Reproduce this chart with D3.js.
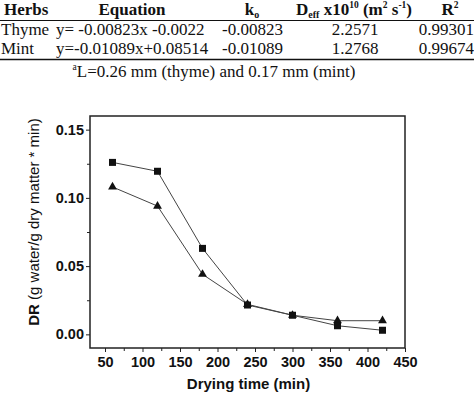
<!DOCTYPE html>
<html>
<head>
<meta charset="utf-8">
<script src="https://cdn.jsdelivr.net/npm/d3@7"></script>
<style>
  body { margin: 0; background: #fff; }
  svg { display: block; }
  .tbl { font-family: "Liberation Serif", "Times New Roman", serif; font-size: 17px; fill: #111; }
  .ax text { font-family: "Liberation Sans", Arial, sans-serif; font-size: 14.5px; font-weight: bold; fill: #111; }
</style>
</head>
<body>
<svg id="chart" width="474" height="397"></svg>
<script>
// table data
const herbs = ['Thyme', 'Mint'];
const equations = ['y= -0.00823x -0.0022', 'y=-0.01089x+0.08514'];
const k0 = ['-0.00823', '-0.01089'];
const deff = ['2.2571', '1.2768'];
const r2 = ['0.99301', '0.99674'];

// drying curve data
const times = [60, 120, 180, 240, 300, 360, 420];
const thymeDR = [0.126, 0.1195, 0.063, 0.0215, 0.014, 0.0063, 0.003];
const mintDR = [0.108, 0.094, 0.044, 0.022, 0.014, 0.010, 0.010];
const xTicks = [50, 100, 150, 200, 250, 300, 350, 400, 450];
const yTicks = [0.00, 0.05, 0.10, 0.15];

const svg = d3.select('#chart');

// ---- table ----
const tbl = svg.append('g').attr('class', 'tbl');

const head = tbl.append('g').attr('font-weight', 'bold');
head.append('text').attr('x', 4).attr('y', 15).text('Herbs');
head.append('text').attr('x', 132).attr('y', 15).attr('text-anchor', 'middle').text('Equation');
const kh = head.append('text').attr('x', 252).attr('y', 15).attr('text-anchor', 'middle');
kh.append('tspan').text('k');
kh.append('tspan').attr('font-size', 10).attr('dy', 3).text('o');
const dh = head.append('text').attr('x', 354).attr('y', 15).attr('text-anchor', 'middle');
dh.append('tspan').text('D');
dh.append('tspan').attr('font-size', 10).attr('dy', 3).text('eff');
dh.append('tspan').attr('dy', -3).text(' x10');
dh.append('tspan').attr('font-size', 9.5).attr('dy', -7).text('10');
dh.append('tspan').attr('dy', 7).text(' (m');
dh.append('tspan').attr('font-size', 9.5).attr('dy', -7).text('2');
dh.append('tspan').attr('dy', 7).text(' s');
dh.append('tspan').attr('font-size', 9.5).attr('dy', -7).text('-1');
dh.append('tspan').attr('dy', 7).text(')');
const rh = head.append('text').attr('x', 450).attr('y', 15).attr('text-anchor', 'middle');
rh.append('tspan').text('R');
rh.append('tspan').attr('font-size', 9.5).attr('dy', -7).text('2');

tbl.append('line').attr('x1', 0).attr('x2', 474).attr('y1', 20.5).attr('y2', 20.5)
  .attr('stroke', '#111').attr('stroke-width', 1);

const rowY = [35, 54];
herbs.forEach((h, i) => {
  const y = rowY[i];
  tbl.append('text').attr('x', 1).attr('y', y).text(h);
  tbl.append('text').attr('x', 56).attr('y', y).text(equations[i]);
  tbl.append('text').attr('x', 222).attr('y', y).text(k0[i]);
  tbl.append('text').attr('x', 355).attr('y', y).attr('text-anchor', 'middle').text(deff[i]);
  tbl.append('text').attr('x', 474).attr('y', y).attr('text-anchor', 'end').text(r2[i]);
});

tbl.append('line').attr('x1', 0).attr('x2', 474).attr('y1', 59.5).attr('y2', 59.5)
  .attr('stroke', '#111').attr('stroke-width', 1.5);

const fn = tbl.append('text').attr('x', 214).attr('y', 77).attr('text-anchor', 'middle');
fn.append('tspan').attr('font-size', 9.5).attr('dy', -7).text('a');
fn.append('tspan').attr('dy', 7).text('L=0.26 mm (thyme) and 0.17 mm (mint)');

// ---- chart ----
const x = d3.scaleLinear().domain([30, 450]).range([90, 405]);
const y = d3.scaleLinear().domain([-0.01, 0.16]).range([348, 116]);

const xAxis = svg.append('g').attr('class', 'ax').attr('transform', `translate(0,${y.range()[0]})`)
  .call(d3.axisBottom(x).tickValues(xTicks).tickSize(4).tickPadding(5).tickFormat(d3.format('d')));
const xMinor = svg.append('g').attr('transform', `translate(0,${y.range()[0]})`)
  .call(d3.axisBottom(x).tickValues(xTicks.slice(0, -1).map(d => d + 25)).tickSize(3).tickFormat(''));

const yAxis = svg.append('g').attr('class', 'ax').attr('transform', `translate(${x.range()[0]},0)`)
  .call(d3.axisLeft(y).tickValues(yTicks).tickSize(4).tickPadding(2).tickFormat(d3.format('.2f')));
const yMinor = svg.append('g').attr('transform', `translate(${x.range()[0]},0)`)
  .call(d3.axisLeft(y).tickValues(yTicks.slice(0, -1).map(d => d + 0.025)).tickSize(3).tickFormat(''));

[xAxis, xMinor, yAxis, yMinor].forEach(g => {
  g.select('.domain').remove();
  g.selectAll('line').attr('stroke', '#222').attr('stroke-width', 1);
});

// frame
svg.append('rect')
  .attr('x', x.range()[0]).attr('y', y.range()[1])
  .attr('width', x.range()[1] - x.range()[0]).attr('height', y.range()[0] - y.range()[1])
  .attr('fill', 'none').attr('stroke', '#222').attr('stroke-width', 1.5);

const line = d3.line().x((d, i) => x(times[i])).y(d => y(d));

svg.append('path').datum(mintDR).attr('d', line)
  .attr('fill', 'none').attr('stroke', '#444').attr('stroke-width', 1);
svg.append('path').datum(thymeDR).attr('d', line)
  .attr('fill', 'none').attr('stroke', '#444').attr('stroke-width', 1);

svg.append('g').selectAll('path').data(mintDR).join('path')
  .attr('transform', (d, i) => `translate(${x(times[i])},${y(d)})`)
  .attr('d', d3.symbol(d3.symbolTriangle, 34))
  .attr('fill', '#111');

svg.append('g').selectAll('rect').data(thymeDR).join('rect')
  .attr('x', (d, i) => x(times[i]) - 3.5).attr('y', d => y(d) - 3.5)
  .attr('width', 7).attr('height', 7)
  .attr('fill', '#111');

// axis titles
svg.append('text')
  .attr('x', (x.range()[0] + x.range()[1]) / 2 + 1).attr('y', 389)
  .attr('text-anchor', 'middle')
  .attr('font-family', '"Liberation Sans", Arial, sans-serif')
  .attr('font-size', 15).attr('font-weight', 'bold').attr('fill', '#111')
  .text('Drying time (min)');

const yl = svg.append('text')
  .attr('transform', 'translate(39,222) rotate(-90)')
  .attr('text-anchor', 'middle')
  .attr('font-family', '"Liberation Sans", Arial, sans-serif')
  .attr('font-size', 15).attr('fill', '#111');
yl.append('tspan').attr('font-weight', 'bold').text('DR');
yl.append('tspan').text(' (g water/g dry matter * min)');
</script>
</body>
</html>
